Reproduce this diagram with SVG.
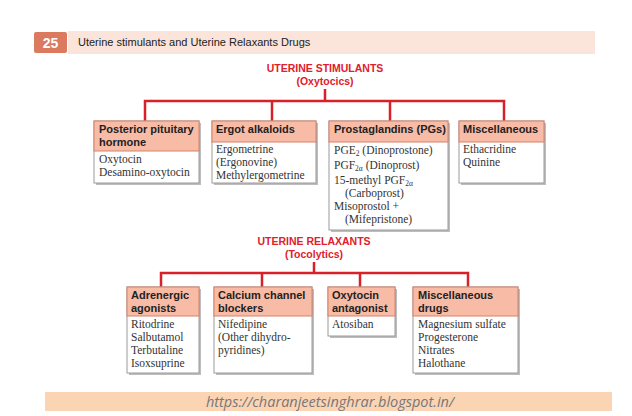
<svg xmlns="http://www.w3.org/2000/svg" width="632" height="416" viewBox="0 0 632 416">
<defs><style>
.hd{fill:#f8bba6;stroke:#d5826c;stroke-width:1}
.bd{fill:#fff;stroke:#9a9a9a;stroke-width:1}
.sh{fill:#bdbdbd}
.ht{font-family:"Liberation Sans",Arial,sans-serif;font-weight:bold;font-size:11px;fill:#222}
.bt{font-family:"Liberation Serif","Times New Roman",serif;font-size:11.5px;fill:#333}
.tt{font-family:"Liberation Sans",Arial,sans-serif;font-weight:bold;font-size:10.5px;fill:#e0202a;text-anchor:middle}
.ln{fill:none;stroke:#d8202a;stroke-width:2.5}
</style></defs>
<rect width="632" height="416" fill="#fff"/>
<rect x="68" y="31" width="527" height="23" fill="#fbe4da"/>
<rect x="34" y="32" width="33" height="21" rx="2" fill="#db7a5f"/>
<text x="50.5" y="48" text-anchor="middle" font-family="Liberation Sans,Arial,sans-serif" font-weight="bold" font-size="14" fill="#fff">25</text>
<text x="78" y="46" font-family="Liberation Sans,Arial,sans-serif" font-size="11" fill="#222">Uterine stimulants  and Uterine Relaxants Drugs</text>
<text class="tt" x="325" y="72">UTERINE STIMULANTS</text>
<text class="tt" x="325" y="85">(Oxytocics)</text>
<text class="tt" x="314" y="245">UTERINE RELAXANTS</text>
<text class="tt" x="314" y="258">(Tocolytics)</text>
<g id="connectors">
<path class="ln" d="M325 89V101M145 121V101H504V121M272 101V121M390 101V121"/>
<path class="ln" d="M314 262V273M161 287V273H468V287M262 273V287M360 273V287"/>
</g>
<g id="n1"><rect class="sh" x="96" y="123" width="105" height="62"/><rect class="bd" x="94" y="121" width="105" height="62"/><rect class="hd" x="94" y="121" width="105" height="30"/>
<text class="ht" x="99" y="133">Posterior pituitary</text><text class="ht" x="99" y="146">hormone</text>
<text class="bt" x="99" y="163">Oxytocin</text><text class="bt" x="99" y="176">Desamino-oxytocin</text></g>
<g id="n2"><rect class="sh" x="214" y="123" width="104" height="62"/><rect class="bd" x="212" y="121" width="104" height="62"/><rect class="hd" x="212" y="121" width="104" height="21"/>
<text class="ht" x="216" y="133">Ergot alkaloids</text>
<text class="bt" x="216" y="153">Ergometrine</text><text class="bt" x="216" y="166">(Ergonovine)</text><text class="bt" x="216" y="179">Methylergometrine</text></g>
<g id="n3"><rect class="sh" x="331" y="123" width="119" height="109"/><rect class="bd" x="329" y="121" width="119" height="109"/><rect class="hd" x="329" y="121" width="119" height="21"/>
<text class="ht" x="334" y="133">Prostaglandins (PGs)</text>
<text class="bt" x="334" y="154">PGE<tspan font-size="7.5" dy="2">2</tspan><tspan dy="-2"> (Dinoprostone)</tspan></text>
<text class="bt" x="334" y="169">PGF<tspan font-size="7.5" dy="2">2α</tspan><tspan dy="-2"> (Dinoprost)</tspan></text>
<text class="bt" x="334" y="184">15-methyl PGF<tspan font-size="7.5" dy="2">2α</tspan></text>
<text class="bt" x="345" y="197">(Carboprost)</text>
<text class="bt" x="334" y="210">Misoprostol +</text><text class="bt" x="345" y="223">(Mifepristone)</text></g>
<g id="n4"><rect class="sh" x="461" y="123" width="85" height="62"/><rect class="bd" x="459" y="121" width="85" height="62"/><rect class="hd" x="459" y="121" width="85" height="21"/>
<text class="ht" x="463" y="133">Miscellaneous</text>
<text class="bt" x="463" y="153">Ethacridine</text><text class="bt" x="463" y="166">Quinine</text></g>
<g id="n5"><rect class="sh" x="129" y="289" width="72" height="86"/><rect class="bd" x="127" y="287" width="72" height="86"/><rect class="hd" x="127" y="287" width="72" height="29"/>
<text class="ht" x="131" y="299">Adrenergic</text><text class="ht" x="131" y="312">agonists</text>
<text class="bt" x="131" y="328">Ritodrine</text><text class="bt" x="131" y="341">Salbutamol</text><text class="bt" x="131" y="354">Terbutaline</text><text class="bt" x="131" y="367">Isoxsuprine</text></g>
<g id="n6"><rect class="sh" x="216" y="289" width="98" height="86"/><rect class="bd" x="214" y="287" width="98" height="86"/><rect class="hd" x="214" y="287" width="98" height="29"/>
<text class="ht" x="218" y="299">Calcium channel</text><text class="ht" x="218" y="312">blockers</text>
<text class="bt" x="218" y="328">Nifedipine</text><text class="bt" x="218" y="341">(Other dihydro-</text><text class="bt" x="218" y="354">pyridines)</text></g>
<g id="n7"><rect class="sh" x="330" y="289" width="67" height="49"/><rect class="bd" x="328" y="287" width="67" height="49"/><rect class="hd" x="328" y="287" width="67" height="29"/>
<text class="ht" x="332" y="299">Oxytocin</text><text class="ht" x="332" y="312">antagonist</text>
<text class="bt" x="332" y="328">Atosiban</text></g>
<g id="n8"><rect class="sh" x="415" y="289" width="105" height="86"/><rect class="bd" x="413" y="287" width="105" height="86"/><rect class="hd" x="413" y="287" width="105" height="29"/>
<text class="ht" x="418" y="299">Miscellaneous</text><text class="ht" x="418" y="312">drugs</text>
<text class="bt" x="418" y="328">Magnesium sulfate</text><text class="bt" x="418" y="341">Progesterone</text><text class="bt" x="418" y="354">Nitrates</text><text class="bt" x="418" y="367">Halothane</text></g>
<rect x="45" y="392" width="567" height="19" fill="#fbd4b4"/>
<text x="330" y="407" text-anchor="middle" font-family="Open Sans,Liberation Sans,sans-serif" font-style="italic" font-size="14.5" fill="#777">https://charanjeetsinghrar.blogspot.in/</text>
</svg>
